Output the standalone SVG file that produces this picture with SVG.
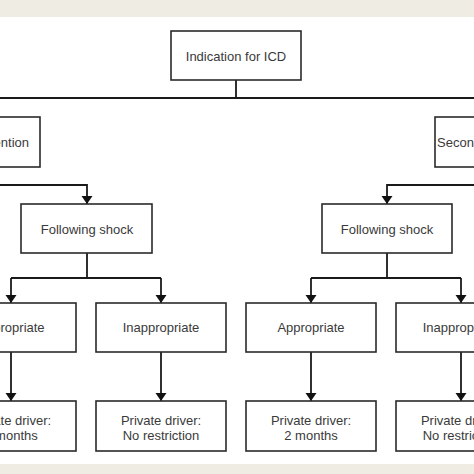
<svg xmlns="http://www.w3.org/2000/svg" width="474" height="474" viewBox="0 0 474 474">
<defs>
<style>
.box{fill:#fff;stroke:#2a2a2a;stroke-width:1.6}
.t{font-family:"Liberation Sans",Arial,sans-serif;font-size:13px;fill:#3a3a3a;text-anchor:middle}
.c{fill:none;stroke:#1a1a1a;stroke-width:1.8}
</style>
<marker id="ah" markerUnits="userSpaceOnUse" markerWidth="12" markerHeight="12" refX="8" refY="5.5" orient="auto">
<path d="M0,0 L8,5.5 L0,11 z" fill="#111"/>
</marker>
</defs>
<rect x="0" y="0" width="474" height="464" fill="#fff"/>
<rect x="0" y="0" width="474" height="17" fill="#efece3"/>
<rect x="0" y="464" width="474" height="10" fill="#efece3"/>
<g id="connectors">
<path class="c" d="M236,80 V98 M0,98 H474"/>
<path class="c" d="M0,185 H87 V204" marker-end="url(#ah)"/>
<path class="c" d="M87,253 V278 M11,278 H161"/>
<path class="c" d="M11,278 V303" marker-end="url(#ah)"/>
<path class="c" d="M161,278 V303" marker-end="url(#ah)"/>
<path class="c" d="M11,352 V401" marker-end="url(#ah)"/>
<path class="c" d="M161,352 V401" marker-end="url(#ah)"/>
<path class="c" d="M474,185 H387 V204" marker-end="url(#ah)"/>
<path class="c" d="M387,253 V278 M311,278 H461"/>
<path class="c" d="M311,278 V303" marker-end="url(#ah)"/>
<path class="c" d="M461,278 V303" marker-end="url(#ah)"/>
<path class="c" d="M311,352 V401" marker-end="url(#ah)"/>
<path class="c" d="M461,352 V401" marker-end="url(#ah)"/>
</g>
<g id="indication"><rect class="box" x="171" y="31" width="130" height="49"/><text class="t" x="236" y="60.5">Indication for ICD</text></g>
<g id="primary"><rect class="box" x="-91" y="117" width="131" height="50"/><text class="t" x="29" y="146.5" style="text-anchor:end">Primary prevention</text></g>
<g id="secondary"><rect class="box" x="435" y="117" width="131" height="50"/><text class="t" x="437" y="146.5" style="text-anchor:start">Secondary prevention</text></g>
<g id="shock-left"><rect class="box" x="21" y="204" width="131" height="49"/><text class="t" x="87" y="233.5">Following shock</text></g>
<g id="shock-right"><rect class="box" x="322" y="204" width="130" height="49"/><text class="t" x="387" y="233.5">Following shock</text></g>
<g id="appropriate-left"><rect class="box" x="-54" y="303" width="130" height="49"/><text class="t" x="11" y="332">Appropriate</text></g>
<g id="inappropriate-left"><rect class="box" x="96" y="303" width="130" height="49"/><text class="t" x="161" y="332">Inappropriate</text></g>
<g id="appropriate-right"><rect class="box" x="246" y="303" width="130" height="49"/><text class="t" x="311" y="332">Appropriate</text></g>
<g id="inappropriate-right"><rect class="box" x="396" y="303" width="130" height="49"/><text class="t" x="461" y="332">Inappropriate</text></g>
<g id="driver-left-a"><rect class="box" x="-54" y="401" width="130" height="50"/><text class="t" x="11" y="424.5">Private driver:</text><text class="t" x="11" y="439.5">2 months</text></g>
<g id="driver-left-i"><rect class="box" x="96" y="401" width="130" height="50"/><text class="t" x="161" y="424.5">Private driver:</text><text class="t" x="161" y="439.5">No restriction</text></g>
<g id="driver-right-a"><rect class="box" x="246" y="401" width="130" height="50"/><text class="t" x="311" y="424.5">Private driver:</text><text class="t" x="311" y="439.5">2 months</text></g>
<g id="driver-right-i"><rect class="box" x="396" y="401" width="130" height="50"/><text class="t" x="461" y="424.5">Private driver:</text><text class="t" x="461" y="439.5">No restriction</text></g>
</svg>
